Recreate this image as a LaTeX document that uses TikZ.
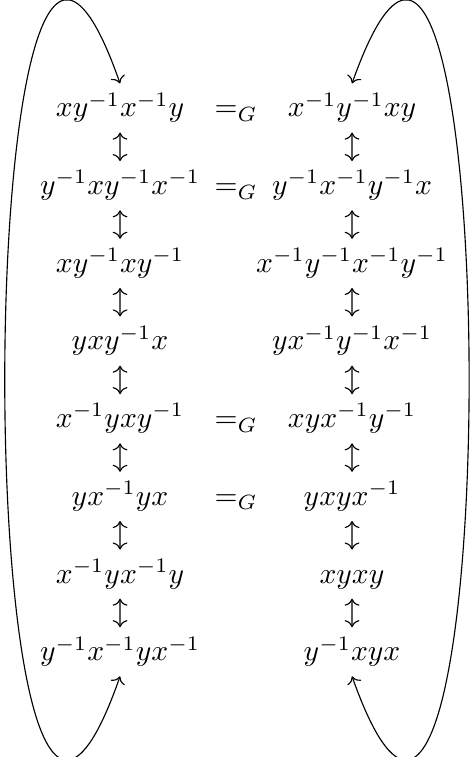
\documentclass[tikz,border=0pt]{standalone}
\usepackage{amsmath}
\usepackage{amssymb}
\usepackage{tikz}
\usetikzlibrary{positioning,arrows.meta}

\begin{document}
\begin{tikzpicture}
				\tikzset{
					word/.style={anchor=base, scale=1.04, inner sep=0pt, text height=11.15pt, text depth=5.1pt},
					move/.style={<->},
					loop/.style={<->}
				}
				\useasboundingbox (-1.485,1.447) rectangle (4.378,-7.918);
				
				% ---- Left column ----
				\node[word] (l1) at (0,0) {$xy^{-1}x^{-1}y$};
				\node[word] (l2) at (0,-0.961) {$y^{-1}xy^{-1}x^{-1}$};
				\node[word] (l3) at (0,-1.922) {$xy^{-1}xy^{-1}$};
				\node[word] (l4) at (0,-2.883) {$yxy^{-1}x$};
				\node[word] (l5) at (0,-3.844) {$x^{-1}yxy^{-1}$};
				\node[word] (l6) at (0,-4.805) {$yx^{-1}yx$};
				\node[word] (l7) at (0,-5.766) {$x^{-1}yx^{-1}y$};
				\node[word] (l8) at (0,-6.727) {$y^{-1}x^{-1}yx^{-1}$};
				
				\draw[move] (l1) -- (l2);
				\draw[move] (l2) -- (l3);
				\draw[move] (l3) -- (l4);
				\draw[move] (l4) -- (l5);
				\draw[move] (l5) -- (l6);
				\draw[move] (l6) -- (l7);
				\draw[move] (l7) -- (l8);
				
				% ---- Equal in G ----
				\node[word] (e1) at (1.435,0) {$=_G$};
				\node[word] (e2) at (1.435,-0.961) {$=_G$};
				\node[word] (e5) at (1.435,-3.844) {$=_G$};
				\node[word] (e6) at (1.435,-4.805) {$=_G$};
				
				% ---- Right column ----
				\node[word] (r1) at (2.87,0) {$x^{-1}y^{-1}xy$};
				\node[word] (r2) at (2.87,-0.961) {$y^{-1}x^{-1}y^{-1}x$};
				\node[word] (r3) at (2.87,-1.922) {$x^{-1}y^{-1}x^{-1}y^{-1}$};
				\node[word] (r4) at (2.87,-2.883) {$yx^{-1}y^{-1}x^{-1}$};
				\node[word] (r5) at (2.87,-3.844) {$xyx^{-1}y^{-1}$};
				\node[word] (r6) at (2.87,-4.805) {$yxyx^{-1}$};
				\node[word] (r7) at (2.87,-5.766) {$xyxy$};
				\node[word] (r8) at (2.87,-6.727) {$y^{-1}xyx$};
				
				\draw[move] (r1) -- (r2);
				\draw[move] (r2) -- (r3);
				\draw[move] (r3) -- (r4);
				\draw[move] (r4) -- (r5);
				\draw[move] (r5) -- (r6);
				\draw[move] (r6) -- (r7);
				\draw[move] (r7) -- (r8);
				
				% ---- Closing loops ----
				\draw[loop] (l1.north) .. controls +(-1.9,5.44) and +(-1.9,-5.44) .. (l8.south);
				\draw[loop] (r1.north) .. controls +(1.93,5.44) and +(1.93,-5.44) .. (r8.south);
			\end{tikzpicture}
\end{document}
